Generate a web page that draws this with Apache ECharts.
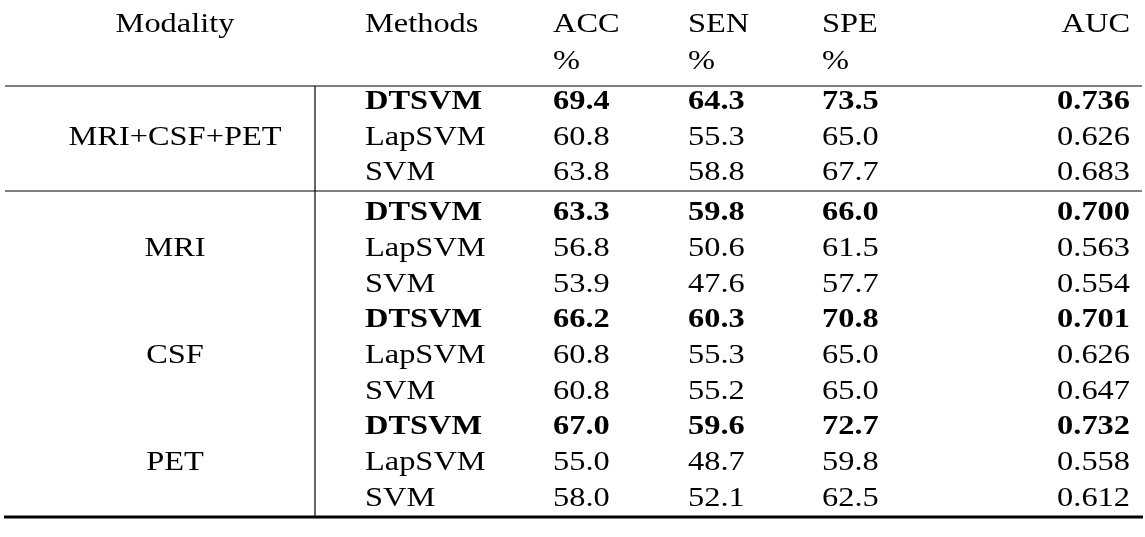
<!DOCTYPE html>
<html>
<head>
<meta charset="UTF-8">
<script src="https://cdn.jsdelivr.net/npm/echarts@6/dist/echarts.min.js"></script>
<style>
  * { margin: 0; padding: 0; }
  body { background: #fff; }
  #chart { width: 1145px; height: 537px; }
</style>
</head>
<body>
<div id="chart"></div>
<script>
  const headers = ['Modality', 'Methods', 'ACC', 'SEN', 'SPE', 'AUC'];
  const subHeaders = ['', '', '%', '%', '%', ''];
  const modalities = ['MRI+CSF+PET', 'MRI', 'CSF', 'PET'];
  const methods = ['DTSVM', 'LapSVM', 'SVM'];
  const acc = [69.4, 60.8, 63.8, 63.3, 56.8, 53.9, 66.2, 60.8, 60.8, 67.0, 55.0, 58.0];
  const sen = [64.3, 55.3, 58.8, 59.8, 50.6, 47.6, 60.3, 55.3, 55.2, 59.6, 48.7, 52.1];
  const spe = [73.5, 65.0, 67.7, 66.0, 61.5, 57.7, 70.8, 65.0, 65.0, 72.7, 59.8, 62.5];
  const auc = [0.736, 0.626, 0.683, 0.700, 0.563, 0.554, 0.701, 0.626, 0.647, 0.732, 0.558, 0.612];

  const font = '"Liberation Serif", "DejaVu Serif", serif';
  const fs = 27;
  const sx = 1.2;
  const colX = [175, 365, 553, 688, 822, 1130];
  const headX = [175, 365, 553, 688, 822, 1130];
  const rowY0 = 102, rowH = 35.7;
  const els = [];
  const txt = (x, y, s, align, bold) => els.push({
    type: 'text', x: x, y: y, scaleX: sx,
    style: { text: s, font: (bold ? 'bold ' : '') + fs + 'px ' + font, fill: '#000',
             textAlign: align, textVerticalAlign: 'middle' }
  });
  const line = (x1, y1, x2, y2, w) => els.push({
    type: 'line', shape: { x1: x1, y1: y1, x2: x2, y2: y2 }, style: { stroke: '#000', lineWidth: w }
  });

  headers.forEach((h, i) => {
    const a = i === 0 ? 'center' : (i === 5 ? 'right' : 'left');
    txt(headX[i], 25, h, a, false);
    if (subHeaders[i]) txt(headX[i], 62, subHeaders[i], a, false);
  });

  const rowY = r => rowY0 + r * rowH + (r >= 3 ? 4 : 0);
  modalities.forEach((m, k) => txt(colX[0], rowY(k * 3 + 1), m, 'center', false));
  for (let r = 0; r < acc.length; r++) {
    const y = rowY(r), bold = r % 3 === 0;
    txt(colX[1], y, methods[r % 3], 'left', bold);
    txt(colX[2], y, acc[r].toFixed(1), 'left', bold);
    txt(colX[3], y, sen[r].toFixed(1), 'left', bold);
    txt(colX[4], y, spe[r].toFixed(1), 'left', bold);
    txt(colX[5], y, auc[r].toFixed(3), 'right', bold);
  }

  line(5, 86, 1142, 86, 1.2);
  line(5, 191, 1142, 191, 1.2);
  line(4, 517, 1143, 517, 3);
  line(315, 86, 315, 517, 1.2);

  const chart = echarts.init(document.getElementById('chart'));
  chart.setOption({ animation: false, graphic: { elements: els } });
</script>
</body>
</html>
